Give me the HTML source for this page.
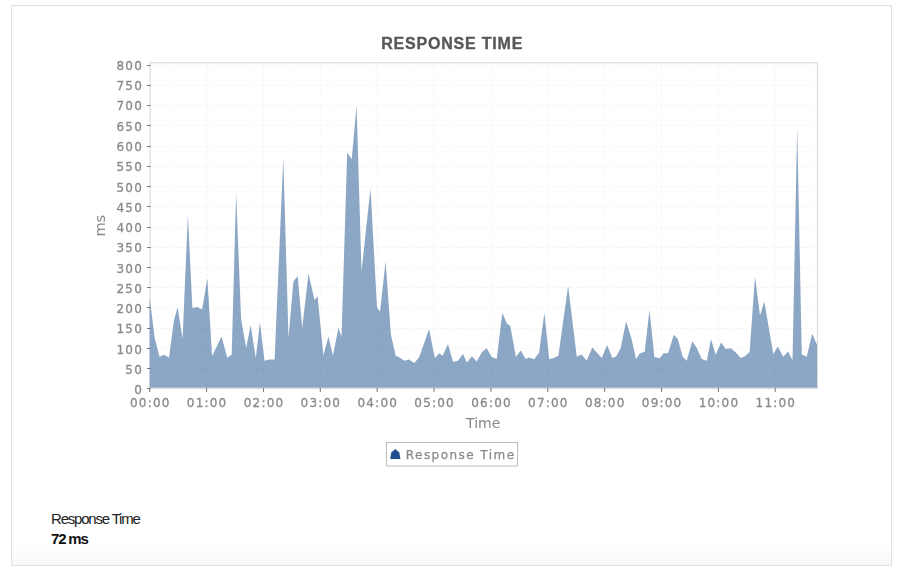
<!DOCTYPE html>
<html><head><meta charset="utf-8"><title>Response Time</title>
<style>
html,body{margin:0;padding:0;background:#fff;}
body{width:899px;height:574px;position:relative;overflow:hidden;}
.box{position:absolute;left:11px;top:5px;width:879px;height:559px;border:1px solid #e1e1e1;
 background:linear-gradient(to bottom,#fff 0,#fff 540px,#f8f8f8 559px);}
svg{position:absolute;left:0;top:0;}
svg text{filter:grayscale(1);}
.gd{stroke:#000;stroke-opacity:0.042;stroke-width:1;stroke-dasharray:3 2;fill:none;}
.tk{stroke:#777;stroke-width:1;}
.yl{stroke:#8a8a8a;stroke-width:0.3px;font-family:"DejaVu Sans",sans-serif;font-size:12px;letter-spacing:1.2px;fill:#8a8a8a;text-anchor:end;}
.xl{stroke:#8a8a8a;stroke-width:0.3px;font-family:"DejaVu Sans",sans-serif;font-size:12px;letter-spacing:1.2px;fill:#8a8a8a;text-anchor:middle;}
.at{font-family:"DejaVu Sans",sans-serif;font-size:14px;fill:#888;text-anchor:middle;}
.ttl{stroke:#575757;stroke-width:0.35px;font-family:"Liberation Sans",Arial,sans-serif;font-size:16px;letter-spacing:0.8px;font-weight:bold;fill:#575757;text-anchor:middle;}
.lg{stroke:#888;stroke-width:0.25px;font-family:"DejaVu Sans",sans-serif;font-size:12px;letter-spacing:1.45px;fill:#888;}
.info{position:absolute;left:51px;font-family:"Liberation Sans",Arial,sans-serif;color:#222;letter-spacing:-1.2px;}
.i1{top:509.6px;font-size:15px;}
.i2{top:530.0px;font-size:15px;font-weight:bold;color:#111;}
</style></head><body>
<div class="box"></div>
<svg width="899" height="574" viewBox="0 0 899 574">
<text x="452.2" y="49.4" class="ttl">RESPONSE TIME</text>
<rect x="150.0" y="62.8" width="667.5" height="325.7" fill="#fff" stroke="#dcdcdc" stroke-width="1.2"/>
<polygon points="149.6,387.8 149.6,297.0 154.7,338.3 159.5,356.7 164.2,354.8 169.0,357.8 173.8,321.0 177.6,307.2 182.6,338.8 187.9,214.7 192.4,308.0 197.2,307.0 202.1,309.5 207.4,278.2 212.1,356.1 221.6,336.6 227.2,357.8 231.7,354.6 236.1,192.5 241.1,318.9 246.2,347.9 250.6,325.1 255.8,357.9 259.9,322.3 264.5,360.7 269.6,359.6 274.6,359.6 283.3,157.8 288.5,337.9 293.4,281.5 297.7,276.0 302.2,327.9 308.5,273.4 314.5,299.9 317.6,296.3 323.4,355.5 328.4,336.6 332.9,355.5 338.5,327.7 341.5,337.1 347.2,152.5 351.7,159.2 356.6,105.8 361.5,271.5 370.5,188.2 377.0,307.5 380.0,311.7 385.6,261.5 390.9,334.5 395.7,355.8 398.9,357.1 404.3,360.8 408.9,359.4 414.3,362.9 419.3,357.1 429.1,329.1 434.8,357.9 439.4,353.3 442.7,355.8 448.0,344.0 453.0,361.8 458.0,360.7 463.0,354.0 466.9,362.4 471.9,356.3 476.7,361.5 482.1,352.1 486.7,348.3 491.7,356.9 496.7,359.1 502.3,312.8 506.8,323.4 510.3,325.9 515.9,356.9 520.7,350.4 525.7,359.1 529.0,357.4 534.1,359.3 539.1,352.4 544.4,312.8 549.2,359.2 553.6,358.0 558.4,355.7 568.1,285.9 576.8,356.8 581.5,354.4 586.7,360.4 592.3,347.4 601.8,358.0 607.1,345.1 612.3,358.0 616.2,356.6 620.7,347.9 626.1,321.2 631.3,337.9 636.1,358.9 639.7,353.5 644.7,351.8 649.5,310.0 654.4,356.9 659.7,358.2 663.6,353.3 668.1,353.3 673.8,334.7 677.8,339.0 682.8,356.9 686.7,360.8 692.3,341.2 696.5,347.4 701.8,359.1 706.8,360.8 711.0,339.0 715.7,354.8 721.1,342.4 725.7,349.1 730.8,348.2 735.8,352.4 740.8,358.0 744.9,356.3 749.6,351.9 755.0,276.7 760.0,315.6 764.3,301.5 773.3,353.9 777.9,346.4 783.2,356.7 788.0,351.4 792.5,360.0 797.2,126.7 801.8,354.4 806.7,356.7 812.2,333.7 817.0,344.8 817.0,387.8" fill="#8ca7c6"/>
<line x1="150.5" y1="368.50" x2="817.5" y2="368.50" class="gd"/>
<line x1="150.5" y1="348.50" x2="817.5" y2="348.50" class="gd"/>
<line x1="150.5" y1="328.50" x2="817.5" y2="328.50" class="gd"/>
<line x1="150.5" y1="307.50" x2="817.5" y2="307.50" class="gd"/>
<line x1="150.5" y1="287.50" x2="817.5" y2="287.50" class="gd"/>
<line x1="150.5" y1="267.50" x2="817.5" y2="267.50" class="gd"/>
<line x1="150.5" y1="247.50" x2="817.5" y2="247.50" class="gd"/>
<line x1="150.5" y1="227.50" x2="817.5" y2="227.50" class="gd"/>
<line x1="150.5" y1="206.50" x2="817.5" y2="206.50" class="gd"/>
<line x1="150.5" y1="186.50" x2="817.5" y2="186.50" class="gd"/>
<line x1="150.5" y1="166.50" x2="817.5" y2="166.50" class="gd"/>
<line x1="150.5" y1="146.50" x2="817.5" y2="146.50" class="gd"/>
<line x1="150.5" y1="125.50" x2="817.5" y2="125.50" class="gd"/>
<line x1="150.5" y1="105.50" x2="817.5" y2="105.50" class="gd"/>
<line x1="150.5" y1="85.50" x2="817.5" y2="85.50" class="gd"/>
<line x1="150.5" y1="65.50" x2="817.5" y2="65.50" class="gd"/>
<line x1="206.57" y1="63.5" x2="206.57" y2="388" class="gd"/>
<line x1="263.44" y1="63.5" x2="263.44" y2="388" class="gd"/>
<line x1="320.31" y1="63.5" x2="320.31" y2="388" class="gd"/>
<line x1="377.18" y1="63.5" x2="377.18" y2="388" class="gd"/>
<line x1="434.05" y1="63.5" x2="434.05" y2="388" class="gd"/>
<line x1="490.92" y1="63.5" x2="490.92" y2="388" class="gd"/>
<line x1="547.79" y1="63.5" x2="547.79" y2="388" class="gd"/>
<line x1="604.66" y1="63.5" x2="604.66" y2="388" class="gd"/>
<line x1="661.53" y1="63.5" x2="661.53" y2="388" class="gd"/>
<line x1="718.40" y1="63.5" x2="718.40" y2="388" class="gd"/>
<line x1="775.27" y1="63.5" x2="775.27" y2="388" class="gd"/>
<line x1="147" y1="388.50" x2="150.7" y2="388.50" class="tk"/>
<text x="143.0" y="394.10" class="yl">0</text>
<line x1="147" y1="368.50" x2="150.7" y2="368.50" class="tk"/>
<text x="143.0" y="373.84" class="yl">50</text>
<line x1="147" y1="348.50" x2="150.7" y2="348.50" class="tk"/>
<text x="143.0" y="353.58" class="yl">100</text>
<line x1="147" y1="328.50" x2="150.7" y2="328.50" class="tk"/>
<text x="143.0" y="333.32" class="yl">150</text>
<line x1="147" y1="307.50" x2="150.7" y2="307.50" class="tk"/>
<text x="143.0" y="313.06" class="yl">200</text>
<line x1="147" y1="287.50" x2="150.7" y2="287.50" class="tk"/>
<text x="143.0" y="292.80" class="yl">250</text>
<line x1="147" y1="267.50" x2="150.7" y2="267.50" class="tk"/>
<text x="143.0" y="272.54" class="yl">300</text>
<line x1="147" y1="247.50" x2="150.7" y2="247.50" class="tk"/>
<text x="143.0" y="252.28" class="yl">350</text>
<line x1="147" y1="227.50" x2="150.7" y2="227.50" class="tk"/>
<text x="143.0" y="232.02" class="yl">400</text>
<line x1="147" y1="206.50" x2="150.7" y2="206.50" class="tk"/>
<text x="143.0" y="211.76" class="yl">450</text>
<line x1="147" y1="186.50" x2="150.7" y2="186.50" class="tk"/>
<text x="143.0" y="191.50" class="yl">500</text>
<line x1="147" y1="166.50" x2="150.7" y2="166.50" class="tk"/>
<text x="143.0" y="171.24" class="yl">550</text>
<line x1="147" y1="146.50" x2="150.7" y2="146.50" class="tk"/>
<text x="143.0" y="150.98" class="yl">600</text>
<line x1="147" y1="125.50" x2="150.7" y2="125.50" class="tk"/>
<text x="143.0" y="130.72" class="yl">650</text>
<line x1="147" y1="105.50" x2="150.7" y2="105.50" class="tk"/>
<text x="143.0" y="110.46" class="yl">700</text>
<line x1="147" y1="85.50" x2="150.7" y2="85.50" class="tk"/>
<text x="143.0" y="90.20" class="yl">750</text>
<line x1="147" y1="65.50" x2="150.7" y2="65.50" class="tk"/>
<text x="143.0" y="69.94" class="yl">800</text>
<line x1="149.70" y1="388" x2="149.70" y2="392" class="tk"/>
<text x="150.30" y="406.8" class="xl">00:00</text>
<line x1="206.57" y1="388" x2="206.57" y2="392" class="tk"/>
<text x="207.17" y="406.8" class="xl">01:00</text>
<line x1="263.44" y1="388" x2="263.44" y2="392" class="tk"/>
<text x="264.04" y="406.8" class="xl">02:00</text>
<line x1="320.31" y1="388" x2="320.31" y2="392" class="tk"/>
<text x="320.91" y="406.8" class="xl">03:00</text>
<line x1="377.18" y1="388" x2="377.18" y2="392" class="tk"/>
<text x="377.78" y="406.8" class="xl">04:00</text>
<line x1="434.05" y1="388" x2="434.05" y2="392" class="tk"/>
<text x="434.65" y="406.8" class="xl">05:00</text>
<line x1="490.92" y1="388" x2="490.92" y2="392" class="tk"/>
<text x="491.52" y="406.8" class="xl">06:00</text>
<line x1="547.79" y1="388" x2="547.79" y2="392" class="tk"/>
<text x="548.39" y="406.8" class="xl">07:00</text>
<line x1="604.66" y1="388" x2="604.66" y2="392" class="tk"/>
<text x="605.26" y="406.8" class="xl">08:00</text>
<line x1="661.53" y1="388" x2="661.53" y2="392" class="tk"/>
<text x="662.13" y="406.8" class="xl">09:00</text>
<line x1="718.40" y1="388" x2="718.40" y2="392" class="tk"/>
<text x="719.00" y="406.8" class="xl">10:00</text>
<line x1="775.27" y1="388" x2="775.27" y2="392" class="tk"/>
<text x="775.87" y="406.8" class="xl">11:00</text>
<text x="483.2" y="428" class="at">Time</text>
<text transform="translate(105.2,225.7) rotate(-90)" x="0" y="0" class="at" style="font-size:14.6px">ms</text>
<rect x="386.5" y="442.5" width="131" height="23.5" fill="none" stroke="#bcbcbc" stroke-width="1"/>
<path d="M390.2,459 L391.3,452.4 L395.3,449 L399.3,452.4 L400.4,459 Z" fill="#1f4f8f"/>
<text x="405.8" y="459.2" class="lg">Response Time</text>
</svg>
<div class="info i1">Response Time</div>
<div class="info i2">72 ms</div>
</body></html>
